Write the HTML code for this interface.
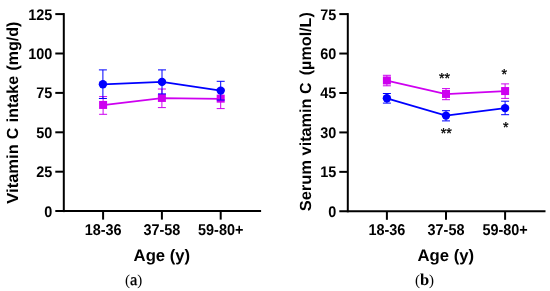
<!DOCTYPE html>
<html><head><meta charset="utf-8"><title>Figure</title>
<style>
html,body{margin:0;padding:0;background:#fff;}
svg{display:block;}
text{font-family:"Liberation Sans",Arial,sans-serif;fill:#000;text-rendering:geometricPrecision;}
.t{font-size:14.45px;font-weight:bold;}
.l{font-size:16px;font-weight:bold;word-spacing:1.8px;}
.l.a{font-size:16.7px;word-spacing:0;}
.s{font-size:14.2px;stroke:#000;stroke-width:0.3px;}
.c{font-family:"Liberation Serif","DejaVu Serif",serif;font-size:15px;}
</style></head><body>
<svg width="550" height="291" viewBox="0 0 550 291">
<rect width="550" height="291" fill="#fff"/>

<g stroke="#000" stroke-width="2" fill="none" stroke-linecap="butt">
<path d="M63.8 13.1 V212.1"/>
<path d="M55.3 211.1 H261.1"/>
<path d="M55.3 14.10 H63.8"/>
<path d="M55.3 53.50 H63.8"/>
<path d="M55.3 92.90 H63.8"/>
<path d="M55.3 132.30 H63.8"/>
<path d="M55.3 171.70 H63.8"/>
<path d="M103.1 211.1 V219.6"/>
<path d="M161.9 211.1 V219.6"/>
<path d="M220.7 211.1 V219.6"/>
</g>
<text class="t" transform="translate(52.3,19.55) scale(1,1.07)" text-anchor="end">125</text>
<text class="t" transform="translate(52.3,58.95) scale(1,1.07)" text-anchor="end">100</text>
<text class="t" transform="translate(52.3,98.35) scale(1,1.07)" text-anchor="end">75</text>
<text class="t" transform="translate(52.3,137.75) scale(1,1.07)" text-anchor="end">50</text>
<text class="t" transform="translate(52.3,177.15) scale(1,1.07)" text-anchor="end">25</text>
<text class="t" transform="translate(52.3,216.55) scale(1,1.07)" text-anchor="end">0</text>
<text class="t" transform="translate(103.1,234.90) scale(1,1.08)" text-anchor="middle">18-36</text>
<text class="t" transform="translate(161.9,234.90) scale(1,1.08)" text-anchor="middle">37-58</text>
<text class="t" transform="translate(220.7,234.90) scale(1,1.08)" text-anchor="middle">59-80+</text>
<g stroke="#CE00F0" stroke-width="1" fill="none">
<path d="M103.1 96.6 V114.3 M99.1 96.6 H107.1 M99.1 114.3 H107.1"/>
<path d="M161.9 89.0 V107.6 M157.9 89.0 H165.9 M157.9 107.6 H165.9"/>
<path d="M220.7 89.1 V108.6 M216.7 89.1 H224.7 M216.7 108.6 H224.7"/>
</g>
<path d="M103.1 105.1 L161.9 98.1 L220.7 98.8" stroke="#CE00F0" stroke-width="1.75" fill="none"/>
<rect x="99.1" y="100.95" width="8" height="8" fill="#CE00F0"/>
<rect x="157.9" y="93.95" width="8" height="8" fill="#CE00F0"/>
<rect x="216.7" y="94.65" width="8" height="8" fill="#CE00F0"/>
<g stroke="#0000FF" stroke-width="1" fill="none">
<path d="M102.9 69.9 V98.5 M98.9 69.9 H106.9 M98.9 98.5 H106.9"/>
<path d="M162.0 69.9 V93.9 M158.0 69.9 H166.0 M158.0 93.9 H166.0"/>
<path d="M220.7 81.3 V100.0 M216.7 81.3 H224.7 M216.7 100.0 H224.7"/>
</g>
<path d="M102.9 84.3 L162.0 81.9 L220.7 90.6" stroke="#0000FF" stroke-width="1.75" fill="none"/>
<circle cx="102.9" cy="84.3" r="4.2" fill="#0000FF"/>
<circle cx="162.0" cy="81.9" r="4.2" fill="#0000FF"/>
<circle cx="220.7" cy="90.6" r="4.2" fill="#0000FF"/>
<g stroke="#000" stroke-width="2" fill="none" stroke-linecap="butt">
<path d="M347.8 13.1 V212.3"/>
<path d="M339.3 211.3 H545.5"/>
<path d="M339.3 14.10 H347.8"/>
<path d="M339.3 53.54 H347.8"/>
<path d="M339.3 92.98 H347.8"/>
<path d="M339.3 132.42 H347.8"/>
<path d="M339.3 171.86 H347.8"/>
<path d="M386.9 211.3 V219.8"/>
<path d="M446.0 211.3 V219.8"/>
<path d="M505.1 211.3 V219.8"/>
</g>
<text class="t" transform="translate(336.3,19.55) scale(1,1.07)" text-anchor="end">75</text>
<text class="t" transform="translate(336.3,58.99) scale(1,1.07)" text-anchor="end">60</text>
<text class="t" transform="translate(336.3,98.43) scale(1,1.07)" text-anchor="end">45</text>
<text class="t" transform="translate(336.3,137.87) scale(1,1.07)" text-anchor="end">30</text>
<text class="t" transform="translate(336.3,177.31) scale(1,1.07)" text-anchor="end">15</text>
<text class="t" transform="translate(336.3,216.75) scale(1,1.07)" text-anchor="end">0</text>
<text class="t" transform="translate(386.9,235.10) scale(1,1.08)" text-anchor="middle">18-36</text>
<text class="t" transform="translate(446.0,235.10) scale(1,1.08)" text-anchor="middle">37-58</text>
<text class="t" transform="translate(505.1,235.10) scale(1,1.08)" text-anchor="middle">59-80+</text>
<g stroke="#CE00F0" stroke-width="1" fill="none">
<path d="M386.9 75.3 V85.8 M382.9 75.3 H390.9 M382.9 85.8 H390.9"/>
<path d="M446.0 88.6 V99.7 M442.0 88.6 H450.0 M442.0 99.7 H450.0"/>
<path d="M505.1 83.9 V98.4 M501.1 83.9 H509.1 M501.1 98.4 H509.1"/>
</g>
<path d="M386.9 80.6 L446.0 94.1 L505.1 91.2" stroke="#CE00F0" stroke-width="1.75" fill="none"/>
<rect x="382.9" y="76.45" width="8" height="8" fill="#CE00F0"/>
<rect x="442.0" y="89.95" width="8" height="8" fill="#CE00F0"/>
<rect x="501.1" y="87.05" width="8" height="8" fill="#CE00F0"/>
<g stroke="#0000FF" stroke-width="1" fill="none">
<path d="M386.9 93.5 V103.1 M382.9 93.5 H390.9 M382.9 103.1 H390.9"/>
<path d="M446.0 110.7 V120.9 M442.0 110.7 H450.0 M442.0 120.9 H450.0"/>
<path d="M505.1 101.2 V114.7 M501.1 101.2 H509.1 M501.1 114.7 H509.1"/>
</g>
<path d="M386.9 98.3 L446.0 115.6 L505.1 108.1" stroke="#0000FF" stroke-width="1.75" fill="none"/>
<circle cx="386.9" cy="98.3" r="4.2" fill="#0000FF"/>
<circle cx="446.0" cy="115.6" r="4.2" fill="#0000FF"/>
<circle cx="505.1" cy="108.1" r="4.2" fill="#0000FF"/>
<text class="l a" x="161.9" y="261.3" text-anchor="middle">Age (y)</text>
<text class="l a" x="445.8" y="261.3" text-anchor="middle">Age (y)</text>
<text class="l" transform="translate(17.6,70.5) rotate(-90) scale(1.0,1)">(mg/d)</text>
<text class="l" transform="translate(17.6,122.2) rotate(-90) scale(1.0,1)">intake</text>
<text class="l" transform="translate(17.6,139.2) rotate(-90) scale(1.0,1)">C</text>
<text class="l" transform="translate(17.6,203.7) rotate(-90) scale(1.034,1)">Vitamin</text>
<text class="l" transform="translate(310.8,75.3) rotate(-90) scale(1.01,1)">(µmol/L)</text>
<text class="l" transform="translate(310.8,94.0) rotate(-90) scale(1.0,1)">C</text>
<text class="l" transform="translate(310.8,155.4) rotate(-90) scale(1.016,1)">vitamin</text>
<text class="l" transform="translate(310.8,211.3) rotate(-90) scale(1.03,1)">Serum</text>
<text class="s" x="444.6" y="83.0" text-anchor="middle">**</text>
<text class="s" x="446.2" y="138.0" text-anchor="middle">**</text>
<text class="s" x="504.3" y="79.2" text-anchor="middle">*</text>
<text class="s" x="505.7" y="132" text-anchor="middle">*</text>
<text class="c" x="133.7" y="285" text-anchor="middle">(<tspan font-size="16.5px" stroke="#000" stroke-width="0.3">a</tspan>)</text>
<text class="c" x="424.5" y="285" text-anchor="middle">(<tspan font-weight="bold" font-size="16.5px">b</tspan>)</text>
</svg></body></html>
